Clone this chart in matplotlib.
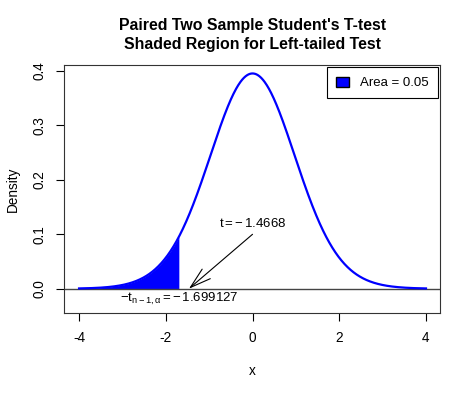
import math
import numpy as np
import matplotlib
matplotlib.use("Agg")
import matplotlib.pyplot as plt
from matplotlib.patches import Patch

plt.rcParams['font.family'] = ['Liberation Sans', 'DejaVu Sans']
plt.rcParams['mathtext.fontset'] = 'custom'
plt.rcParams['mathtext.rm'] = 'Liberation Sans'
plt.rcParams['mathtext.it'] = 'Liberation Sans'
plt.rcParams['axes.unicode_minus'] = False

# test setup
df = 29
alpha = 0.05
t_stat = -1.4668
t_crit = -1.699127
x_range = [-4, 4]


def t_pdf(x, nu):
    c = math.gamma((nu + 1) / 2) / (math.sqrt(nu * math.pi) * math.gamma(nu / 2))
    return c * (1 + x ** 2 / nu) ** (-(nu + 1) / 2)


x = np.linspace(x_range[0], x_range[1], 801)
y = t_pdf(x, df)

fig = plt.figure(figsize=(4.74, 3.95), dpi=100)
ax = fig.add_axes([0.1357, 0.2076, 0.7932, 0.6286])

ax.axhline(0, color='#444444', lw=1)
xs = x[x <= t_crit]
xs = np.append(xs, t_crit)
ys = t_pdf(xs, df)
ax.fill_between(xs, 0, ys, color='blue', lw=0)
ax.plot(x, y, color='blue', lw=1.6)

# arrow to test statistic
ax.annotate('', xy=(t_stat, 0), xytext=(0, 0.1),
            arrowprops=dict(arrowstyle='->,head_length=1.5,head_width=0.45',
                            color='black', lw=0.8, shrinkA=0, shrinkB=0))
ax.text(0, 0.119, r'$\mathrm{t} = -\,1.4668$', ha='center', va='center', fontsize=9.5)
ax.text(t_crit, -0.019, r'$-\mathrm{t}_{\mathrm{n-1,\alpha}} = -\,1.699127$',
        ha='center', va='center', fontsize=9.5)

ax.set_xlim(-4.34, 4.33)
ax.set_ylim(-0.0446, 0.4116)
ax.set_xticks([-4, -2, 0, 2, 4])
ax.set_yticks([0.0, 0.1, 0.2, 0.3, 0.4])
ax.set_yticklabels(['0.0', '0.1', '0.2', '0.3', '0.4'], rotation=90, va='center')
ax.tick_params(labelsize=9.8, length=6, width=0.8, pad=7)
for s in ax.spines.values():
    s.set_linewidth(0.8)
    s.set_color('#333333')

ax.set_xlabel('x', fontsize=9.8, labelpad=14)
ax.set_ylabel('Density', fontsize=9.8, labelpad=9)
ax.set_title("Paired Two Sample Student's T-test\nShaded Region for Left-tailed Test",
             fontsize=11.4, fontweight='bold', pad=11, linespacing=1.4)

leg = ax.legend(handles=[Patch(facecolor='blue', edgecolor='black', label='Area = 0.05')],
                loc='upper right', fontsize=9.5, fancybox=False, framealpha=1,
                edgecolor='black', handlelength=1.0, handleheight=0.8,
                borderaxespad=0.2, borderpad=0.7)
leg.get_frame().set_linewidth(0.8)

fig.savefig('out.png', dpi=100)
